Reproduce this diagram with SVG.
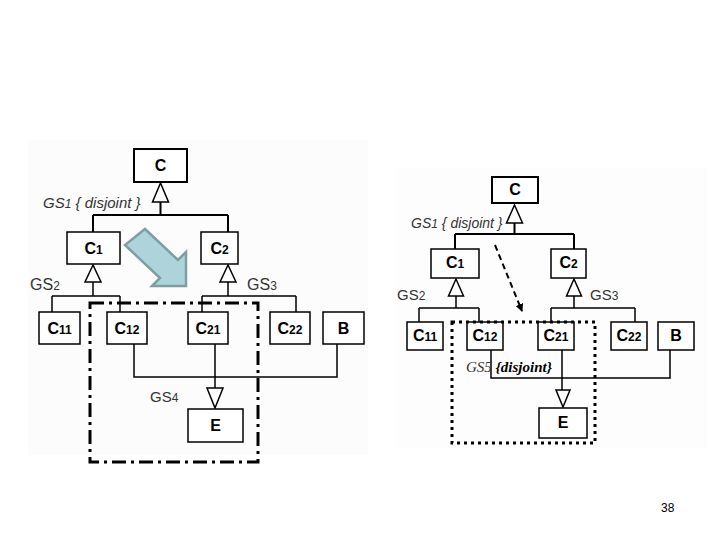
<svg xmlns="http://www.w3.org/2000/svg" width="720" height="540" viewBox="0 0 720 540">
<style>
.box{fill:#fff;stroke:#000;stroke-width:1.5}
.top{stroke-width:2}
.ln{fill:none;stroke:#000;stroke-width:1.5}
.tri{fill:#fff;stroke:#000;stroke-width:1.5}
.lbl{font-family:"Liberation Sans",Arial,sans-serif;font-weight:bold;font-size:16px;text-anchor:middle;fill:#000}
.sub{font-size:12px}
.gs{font-family:"Liberation Sans",Arial,sans-serif;font-size:15px;fill:#333}
.gsi{font-style:italic}
</style>
<defs>
<marker id="ah" markerWidth="8" markerHeight="8" refX="7" refY="4" orient="auto" markerUnits="userSpaceOnUse">
<path d="M0,0 L8,4 L0,8 z" fill="#000"/>
</marker>
</defs>
<rect width="720" height="540" fill="#fff"/>
<rect x="28" y="140" width="340" height="315" fill="#fcfcfc"/>
<rect x="395" y="168" width="312" height="280" fill="#fdfdfd"/>

<!-- LEFT DIAGRAM -->
<g id="left-connectors">
<polygon class="tri" points="160.5,183 152.5,202 168.5,202"/>
<path class="ln" d="M160.5,202 V215 M93,215 H228 M93,215 V232 M228,215 V232" style="stroke-width:2"/>
<polygon class="tri" points="93,265 85,282 101,282"/>
<polygon class="tri" points="228,265 220,282 236,282"/>
<path class="ln" d="M93,282 V296 M52,296 H120 M52,296 V312 M120,296 V312"/>
<path class="ln" d="M228,282 V296 M202,296 H296 M202,296 V312 M296,296 V312"/>
<path class="ln" d="M134,344 V377 H337 V344 M215,344 V388"/>
<polygon class="tri" points="207,388 223,388 215,408"/>
</g>
<g id="L-C"><rect class="box top" x="134" y="149" width="53" height="33"/><text class="lbl" x="160.5" y="171">C</text></g>
<g id="L-C1"><rect class="box" x="67" y="232" width="53" height="32"/><text class="lbl" x="93.5" y="254">C<tspan class="sub">1</tspan></text></g>
<g id="L-C2"><rect class="box" x="201" y="232" width="37" height="32"/><text class="lbl" x="219.5" y="254">C<tspan class="sub">2</tspan></text></g>
<g id="L-C11"><rect class="box" x="39" y="312" width="41" height="32"/><text class="lbl" x="59.5" y="334">C<tspan class="sub">11</tspan></text></g>
<g id="L-C12"><rect class="box" x="107" y="312" width="40" height="32"/><text class="lbl" x="127" y="334">C<tspan class="sub">12</tspan></text></g>
<g id="L-C21"><rect class="box" x="188" y="312" width="40" height="32"/><text class="lbl" x="208" y="334">C<tspan class="sub">21</tspan></text></g>
<g id="L-C22"><rect class="box" x="270" y="312" width="40" height="32"/><text class="lbl" x="290" y="334">C<tspan class="sub">22</tspan></text></g>
<g id="L-B"><rect class="box" x="323" y="312" width="41" height="32"/><text class="lbl" x="343.5" y="334">B</text></g>
<g id="L-E"><rect class="box" x="188" y="409" width="55" height="33"/><text class="lbl" x="215.5" y="431">E</text></g>
<text class="gs gsi" x="43" y="208">GS<tspan class="sub">1</tspan> { disjoint }</text>
<text class="gs" x="30" y="290" style="font-size:16px">GS<tspan class="sub">2</tspan></text>
<text class="gs" x="247" y="290" style="font-size:16px">GS<tspan class="sub">3</tspan></text>
<text class="gs" x="150" y="402">GS<tspan class="sub">4</tspan></text>
<rect id="L-group" x="90" y="303" width="168" height="159" fill="none" stroke="#000" stroke-width="3" stroke-dasharray="14 5 3 5"/>
<polygon id="blue-arrow" points="145,229 178,260 186,252 186,286 152,286 160,278 125,245" fill="#aed4db" stroke="#7f9ea3" stroke-width="2.5" stroke-linejoin="miter"/>

<!-- RIGHT DIAGRAM -->
<g id="right-connectors">
<polygon class="tri" points="514.5,205 506.5,223 522.5,223"/>
<path class="ln" d="M514.5,223 V234 M455,234 H574 M455,234 V249 M574,234 V249" style="stroke-width:2"/>
<polygon class="tri" points="456,279 448.5,296 463.5,296"/>
<polygon class="tri" points="574,279 566.5,296 581.5,296"/>
<path class="ln" d="M456,296 V308 M419,308 H479 M419,308 V322 M479,308 V322"/>
<path class="ln" d="M574,296 V308 M551,308 H635 M551,308 V322 M635,308 V322"/>
<path class="ln" d="M491,350 V378 H670 V350 M562,350 V390"/>
<polygon class="tri" points="556,390 570,390 563,407"/>
<path d="M495,245 L522,311" fill="none" stroke="#000" stroke-width="2" stroke-dasharray="6 4" marker-end="url(#ah)"/>
</g>
<g id="R-C"><rect class="box top" x="492" y="177" width="46" height="26"/><text class="lbl" x="515" y="195">C</text></g>
<g id="R-C1"><rect class="box" x="431" y="249" width="48" height="29"/><text class="lbl" x="455" y="268">C<tspan class="sub">1</tspan></text></g>
<g id="R-C2"><rect class="box" x="551" y="249" width="35" height="29"/><text class="lbl" x="568.5" y="268">C<tspan class="sub">2</tspan></text></g>
<g id="R-C11"><rect class="box" x="407" y="322" width="36" height="28"/><text class="lbl" x="425" y="341">C<tspan class="sub">11</tspan></text></g>
<g id="R-C12"><rect class="box" x="467" y="322" width="36" height="28"/><text class="lbl" x="485" y="341">C<tspan class="sub">12</tspan></text></g>
<g id="R-C21"><rect class="box" x="538" y="322" width="36" height="28"/><text class="lbl" x="556" y="341">C<tspan class="sub">21</tspan></text></g>
<g id="R-C22"><rect class="box" x="611" y="322" width="36" height="28"/><text class="lbl" x="629" y="341">C<tspan class="sub">22</tspan></text></g>
<g id="R-B"><rect class="box" x="658" y="322" width="36" height="28"/><text class="lbl" x="676" y="341">B</text></g>
<g id="R-E"><rect class="box" x="539" y="408" width="48" height="30"/><text class="lbl" x="563" y="428">E</text></g>
<text class="gs gsi" x="411" y="228" style="font-size:14px">GS<tspan class="sub">1</tspan> { disjoint }</text>
<text class="gs" x="397" y="300" style="font-size:15px">GS<tspan class="sub">2</tspan></text>
<text class="gs" x="590" y="300" style="font-size:15px">GS<tspan class="sub">3</tspan></text>
<text x="466" y="372" font-family="'Liberation Serif','Times New Roman',serif" font-style="italic" font-size="15" fill="#333">GS5 <tspan font-weight="bold" fill="#000">{disjoint}</tspan></text>
<rect id="R-group" x="452" y="322" width="143" height="121" fill="none" stroke="#000" stroke-width="3" stroke-dasharray="3 4"/>

<text x="661" y="512" font-family="'Liberation Sans',Arial,sans-serif" font-size="12" fill="#000">38</text>
</svg>
